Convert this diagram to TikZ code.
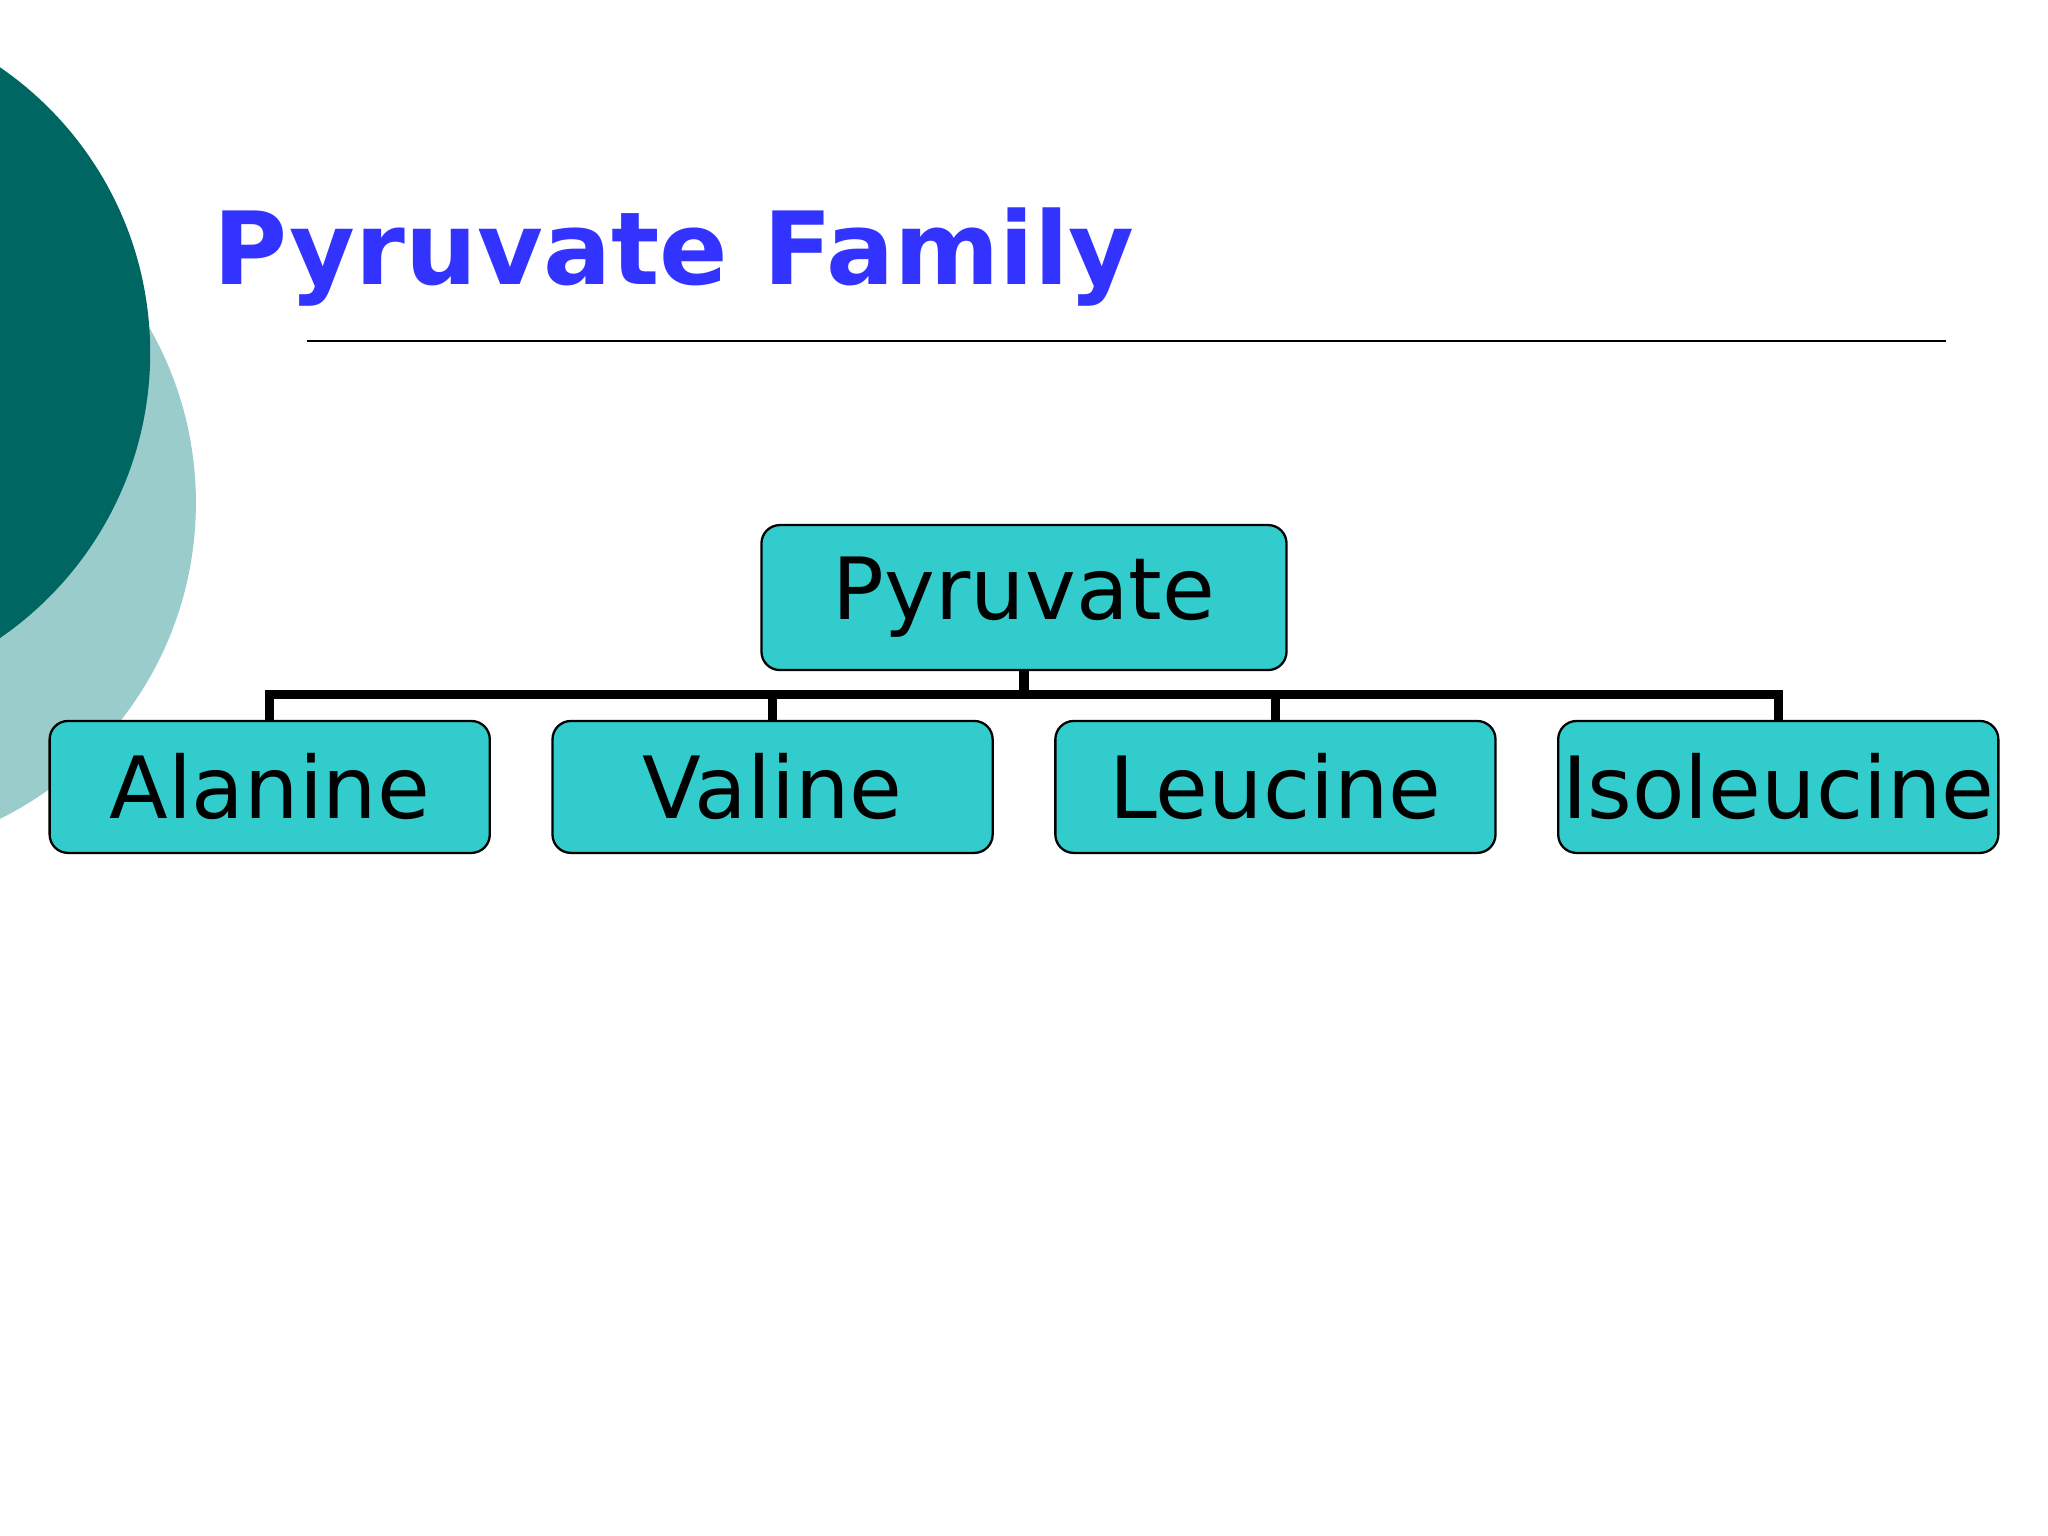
\documentclass[tikz,border=0pt]{standalone}
\usepackage{fontspec}
\setmainfont{DejaVu Sans}
\begin{document}
\begin{tikzpicture}[x=0.1mm,y=-0.1mm,
  box/.style={draw=black,line width=0.5pt,fill=boxc,rounded corners=4pt,minimum width=337*0.1mm,minimum height=101*0.1mm,inner sep=0pt,font=\fontsize{18.7}{22}\selectfont},
  conn/.style={line width=2pt,black}]
\definecolor{boxc}{HTML}{33CCCC}
\definecolor{darkc}{HTML}{006661}
\definecolor{lightc}{HTML}{9ACCCC}
\definecolor{titlec}{HTML}{3333FF}
\useasboundingbox (0,0) rectangle (1568,1176);
\begin{scope}
\clip (0,0) rectangle (1568,1176);
\fill[lightc] (-120,385) circle (270*0.1mm);
\fill[darkc] (-150,270) circle (265*0.1mm);
\end{scope}
\node[anchor=base west,inner sep=0pt,text=titlec,font=\bfseries\fontsize{22}{26}\selectfont] (title) at (163,218) {Pyruvate Family};
\coordinate (l1) at (235,261); \coordinate (l2) at (1490,261);
\draw[line width=0.5pt] (l1) -- (l2);
\node[box,minimum width=402*0.1mm,minimum height=111*0.1mm] (p) at (784,457.5) {Pyruvate};
\node[box] (a) at (206.5,602.5) {Alanine};
\node[box] (v) at (591.5,602.5) {Valine};
\node[box] (l) at (976.5,602.5) {Leucine};
\node[box] (i) at (1361.5,602.5) {Isoleucine};
\coordinate (j) at (784,532);
\draw[conn] (p.south) -- (j);
\draw[conn] (a.north) |- (j) -| (i.north);
\draw[conn] (v.north) -- (v.north |- j);
\draw[conn] (l.north) -- (l.north |- j);
\end{tikzpicture}
\end{document}
